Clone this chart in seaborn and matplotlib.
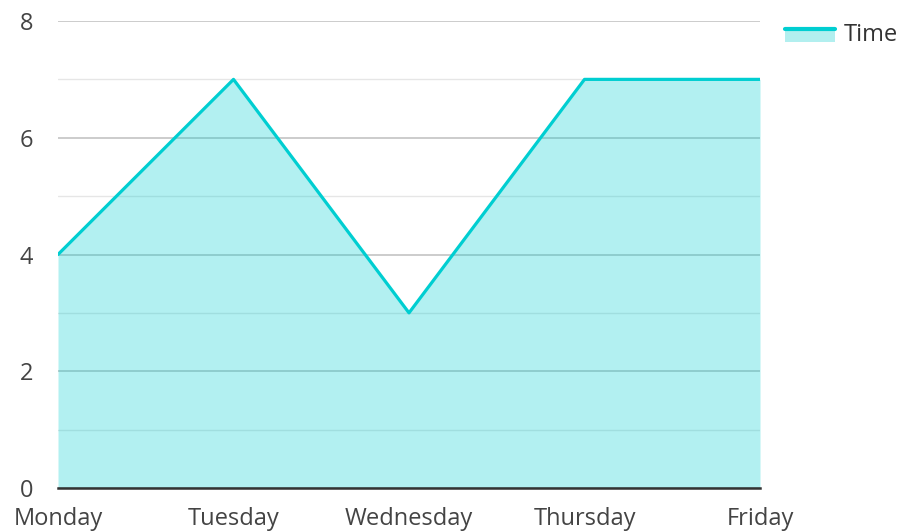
import numpy as np
import matplotlib
matplotlib.use("Agg")
import matplotlib.pyplot as plt
import seaborn as sns
from matplotlib.patches import Rectangle
from matplotlib.lines import Line2D
from matplotlib.ticker import MultipleLocator

# data
days = ["Monday", "Tuesday", "Wednesday", "Thursday", "Friday"]
time_values = [4, 7, 3, 7, 7]
series_name = "Time"

line_color = "#00ced1"
fill_color = "#b2efef"

sns.set_style("white")
plt.rcParams['font.family'] = ['Open Sans', 'DejaVu Sans']

fig = plt.figure(figsize=(9.02, 5.31), dpi=100)
ax = fig.add_axes([58 / 902, 43 / 531, 702 / 902, 467 / 531])

x = np.arange(len(days))
ax.fill_between(x, time_values, 0, color=line_color, alpha=0.3, linewidth=0, zorder=2)
sns.lineplot(x=x, y=time_values, ax=ax, color=line_color, linewidth=2.3, zorder=3)

ax.set_xlim(0, len(days) - 1)
ax.set_ylim(0, 8)
ax.set_xticks(x)
ax.set_xticklabels(days)
ax.yaxis.set_major_locator(MultipleLocator(2))
ax.yaxis.set_minor_locator(MultipleLocator(1))
ax.set_axisbelow(True)
ax.grid(which="major", axis="y", color="#c8c8c8", linewidth=1.3)
ax.grid(which="minor", axis="y", color="#e6e6e6", linewidth=1.0)

for s in ["top", "right", "left"]:
    ax.spines[s].set_visible(False)
ax.spines["bottom"].set_color("#333333")
ax.spines["bottom"].set_linewidth(1.8)
ax.spines["bottom"].set_zorder(4)

ax.tick_params(axis="both", which="both", length=0, labelsize=17, colors="#444444")
ax.tick_params(axis="y", pad=18)
ax.tick_params(axis="x", pad=14)
ax.set_xlabel("")
ax.set_ylabel("")


class AreaHandler:
    def legend_artist(self, legend, orig_handle, fontsize, handlebox):
        x0, y0 = handlebox.xdescent, handlebox.ydescent
        w, h = handlebox.width, handlebox.height
        top = y0 + h * 0.9
        rect = Rectangle((x0, y0), w, top - y0, facecolor=fill_color, edgecolor="none",
                         transform=handlebox.get_transform())
        ln = Line2D([x0, x0 + w], [top, top], color=line_color, linewidth=3.0,
                    transform=handlebox.get_transform())
        handlebox.add_artist(rect)
        handlebox.add_artist(ln)
        return rect


handle = Rectangle((0, 0), 1, 1)
leg = fig.legend([handle], [series_name], handler_map={Rectangle: AreaHandler()},
                 loc="upper left", bbox_to_anchor=(785 / 902, 1 - 23 / 531),
                 frameon=False, fontsize=17, handlelength=2.1, handleheight=0.55,
                 handletextpad=0.4, borderpad=0, borderaxespad=0)
for t in leg.get_texts():
    t.set_color("#333333")

fig.savefig("out.png", dpi=100)
